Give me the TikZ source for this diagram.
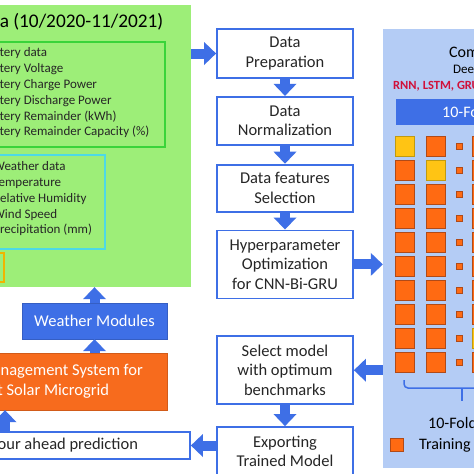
\documentclass[tikz,border=0pt]{standalone}
\usepackage{fontspec}
\setmainfont{Carlito}
\usetikzlibrary{positioning, arrows.meta}
\definecolor{flowblue}{HTML}{3E6FE6}
\definecolor{datagreen}{HTML}{9DEE78}
\definecolor{battgreen}{HTML}{3AD43A}
\definecolor{wcyan}{HTML}{4DD9E6}
\definecolor{wyellow}{HTML}{F0B400}
\definecolor{emsorange}{HTML}{F76B1D}
\definecolor{panelblue}{HTML}{B4CCF5}
\definecolor{sqorange}{HTML}{FF6A12}
\definecolor{sqedge}{HTML}{B04A18}
\definecolor{sqyellow}{HTML}{FFC414}
\definecolor{sqyedge}{HTML}{C09A10}
\definecolor{modelred}{HTML}{D0103A}
\tikzset{
>={Triangle[width=23pt,length=12pt,line width=0pt]}, % fat block arrow heads
fat/.style={->, draw=flowblue, line width=10pt}, % thick blue connectors
flow/.style={draw=flowblue, line width=1.8pt, fill=white, minimum width=136pt, align=center, text=black!85, font=\fontsize{16.5}{19.5}\selectfont}, % steps of the middle column
listtxt/.style={inner sep=0pt, anchor=base west, text=black!85, font=\fontsize{13}{15}\selectfont},
sq/.style={minimum size=19.5pt, inner sep=0pt, line width=0.8pt},
}

\begin{document}
\begin{tikzpicture}[x=1pt, y=-1pt]
\fill[white] (0,0) rectangle (474,474);
\useasboundingbox (0,0) rectangle (474,474);
\clip (0,0) rectangle (474,474);

% input data
\node[fill=datagreen, minimum width=251pt, minimum height=282pt] (datain) at (65.5,146) {};
\node[inner sep=0pt, anchor=west, font=\fontsize{19.3}{22}\selectfont] (title) at (-27.6,22) {Data (10/2020-11/2021)};
\node[draw=battgreen, line width=1.5pt, minimum width=225pt, minimum height=105pt] (batt) at (52.5,94.5) {};
\foreach \t [count=\i] in {Battery data, Battery Voltage, Battery Charge Power, Battery Discharge Power, Battery Remainder (kWh), Battery Remainder Capacity (\%)}
    \node[listtxt] (b\i) at (-17.6,41+15.8*\i) {\t};
\node[draw=wcyan, line width=1.5pt, minimum width=165pt, minimum height=94pt] (wdata) at (22.5,202) {};
\foreach \t [count=\i] in {Weather data, Temperature, Relative Humidity, Wind Speed, Precipitation (mm)}
    \node[listtxt] (w\i) at (-6.8,155+15.75*\i) {\t};
\node[draw=wyellow, line width=1.5pt, minimum width=64pt, minimum height=29pt] (extra) at (-28,267.5) {};

% left column
\node[fill=flowblue, draw=flowblue!85!black, text=white, minimum width=145pt, minimum height=36pt, font=\fontsize{16.5}{19.5}\selectfont] (wmod) at (94.5,321) {Weather Modules};
\node[fill=emsorange, draw=emsorange!85!black, text=white, minimum width=262pt, minimum height=57pt, align=center, font=\fontsize{16.5}{19.5}\selectfont] (ems) at (36,381.5) {Energy Management System for\\Smart Solar Microgrid};
\node[draw=flowblue, line width=1.8pt, fill=white, minimum width=253pt, minimum height=27pt, text=black!85, font=\fontsize{16.5}{19.5}\selectfont] (pred) at (63.5,445.5) {hour ahead prediction};

% middle column
\node[flow, minimum height=49pt] (prep) at (285,53.5) {Data\\Preparation};
\node[flow, minimum height=48pt, below=17pt of prep] (norm) {Data\\Normalization};
\node[flow, minimum height=47pt, below=18pt of norm] (feat) {Data features\\Selection};
\node[flow, minimum height=68pt, below=17pt of feat] (hyper) {Hyperparameter\\Optimization\\for CNN-Bi-GRU};
\node[flow, minimum height=68pt, below=36pt of hyper] (select) {Select model\\with optimum\\benchmarks};
\node[flow, minimum height=49pt, below=21pt of select] (export) {Exporting\\Trained Model};

% comparison panel
\node[fill=panelblue, minimum width=157pt, minimum height=439pt] (panel) at (461.5,248.5) {};
\node[anchor=west, inner sep=0pt, font=\fontsize{16}{19}\selectfont] (cmp) at (449,53) {Comparison};
\node[anchor=west, inner sep=0pt, font=\fontsize{13}{15}\selectfont] (deep) at (453,70) {Deep Learning};
\node[anchor=west, inner sep=0pt, text=modelred, font=\bfseries\fontsize{12.5}{15}\selectfont] (models) at (393,86) {RNN, LSTM, GRU, CNN};
\node[fill=flowblue, minimum width=130pt, minimum height=26pt, inner sep=0pt] (foldbar) at (461,112) {};
\node[anchor=west, inner sep=0pt, text=white, font=\fontsize{16}{19}\selectfont] (foldtxt) at (442,112) {10-Fold Cross Validation};
\foreach \r in {1,...,10}{
    \foreach \c/\xx in {1/405, 2/436, 4/482}{
        \def\sqfill{sqorange}\def\sqdraw{sqedge}
        \ifnum\r\c=11 \def\sqfill{sqyellow}\def\sqdraw{sqyedge}\fi
        \ifnum\r\c=22 \def\sqfill{sqyellow}\def\sqdraw{sqyedge}\fi
        \ifnum\r\c=94 \def\sqfill{sqyellow}\def\sqdraw{sqyedge}\fi
        \node[sq, fill=\sqfill, draw=\sqdraw] (s\r-\c) at (\xx,122.5+24*\r) {};
    }
    \node[sq, minimum size=6pt, fill=sqorange, draw=sqedge] (s\r-3) at (459,122.5+24*\r) {};
}
\coordinate (brl) at (404,380);
\coordinate (brm) at (462,388);
\draw[flowblue, line width=1.5pt, rounded corners=4pt] (brl) |- (530,388);
\draw[flowblue, line width=1.5pt] (brm) -- (462,401);
\node[anchor=west, inner sep=0pt, font=\fontsize{16}{19}\selectfont] (foldlbl) at (428,423) {10-Fold Cross Validation};
\node[sq, minimum size=13pt, fill=sqorange, draw=sqedge] (legsq) at (396.5,445) {};
\node[anchor=west, inner sep=0pt, font=\fontsize{16}{19}\selectfont] (legtxt) at (419,445) {Training set};

% connectors
\coordinate (up1) at (5,0);
\draw[fat] (datain.east |- prep) -- (prep.west);
\draw[fat] (prep.south) -- (norm.north);
\draw[fat] (norm.south) -- (feat.north);
\draw[fat] (feat.south) -- (hyper.north);
\draw[fat] (hyper.east) -- (panel.west |- hyper);
\draw[fat] (panel.west |- select) -- (select.east);
\draw[fat] (select.south) -- (export.north);
\draw[fat] (export.west |- pred) -- (pred.east);
\draw[fat] (pred.north -| up1) -- (ems.south -| up1);
\draw[fat] (ems.north -| wmod.south) -- (wmod.south);
\draw[fat] (wmod.north) -- (wmod.north |- datain.south);
\end{tikzpicture}
\end{document}
